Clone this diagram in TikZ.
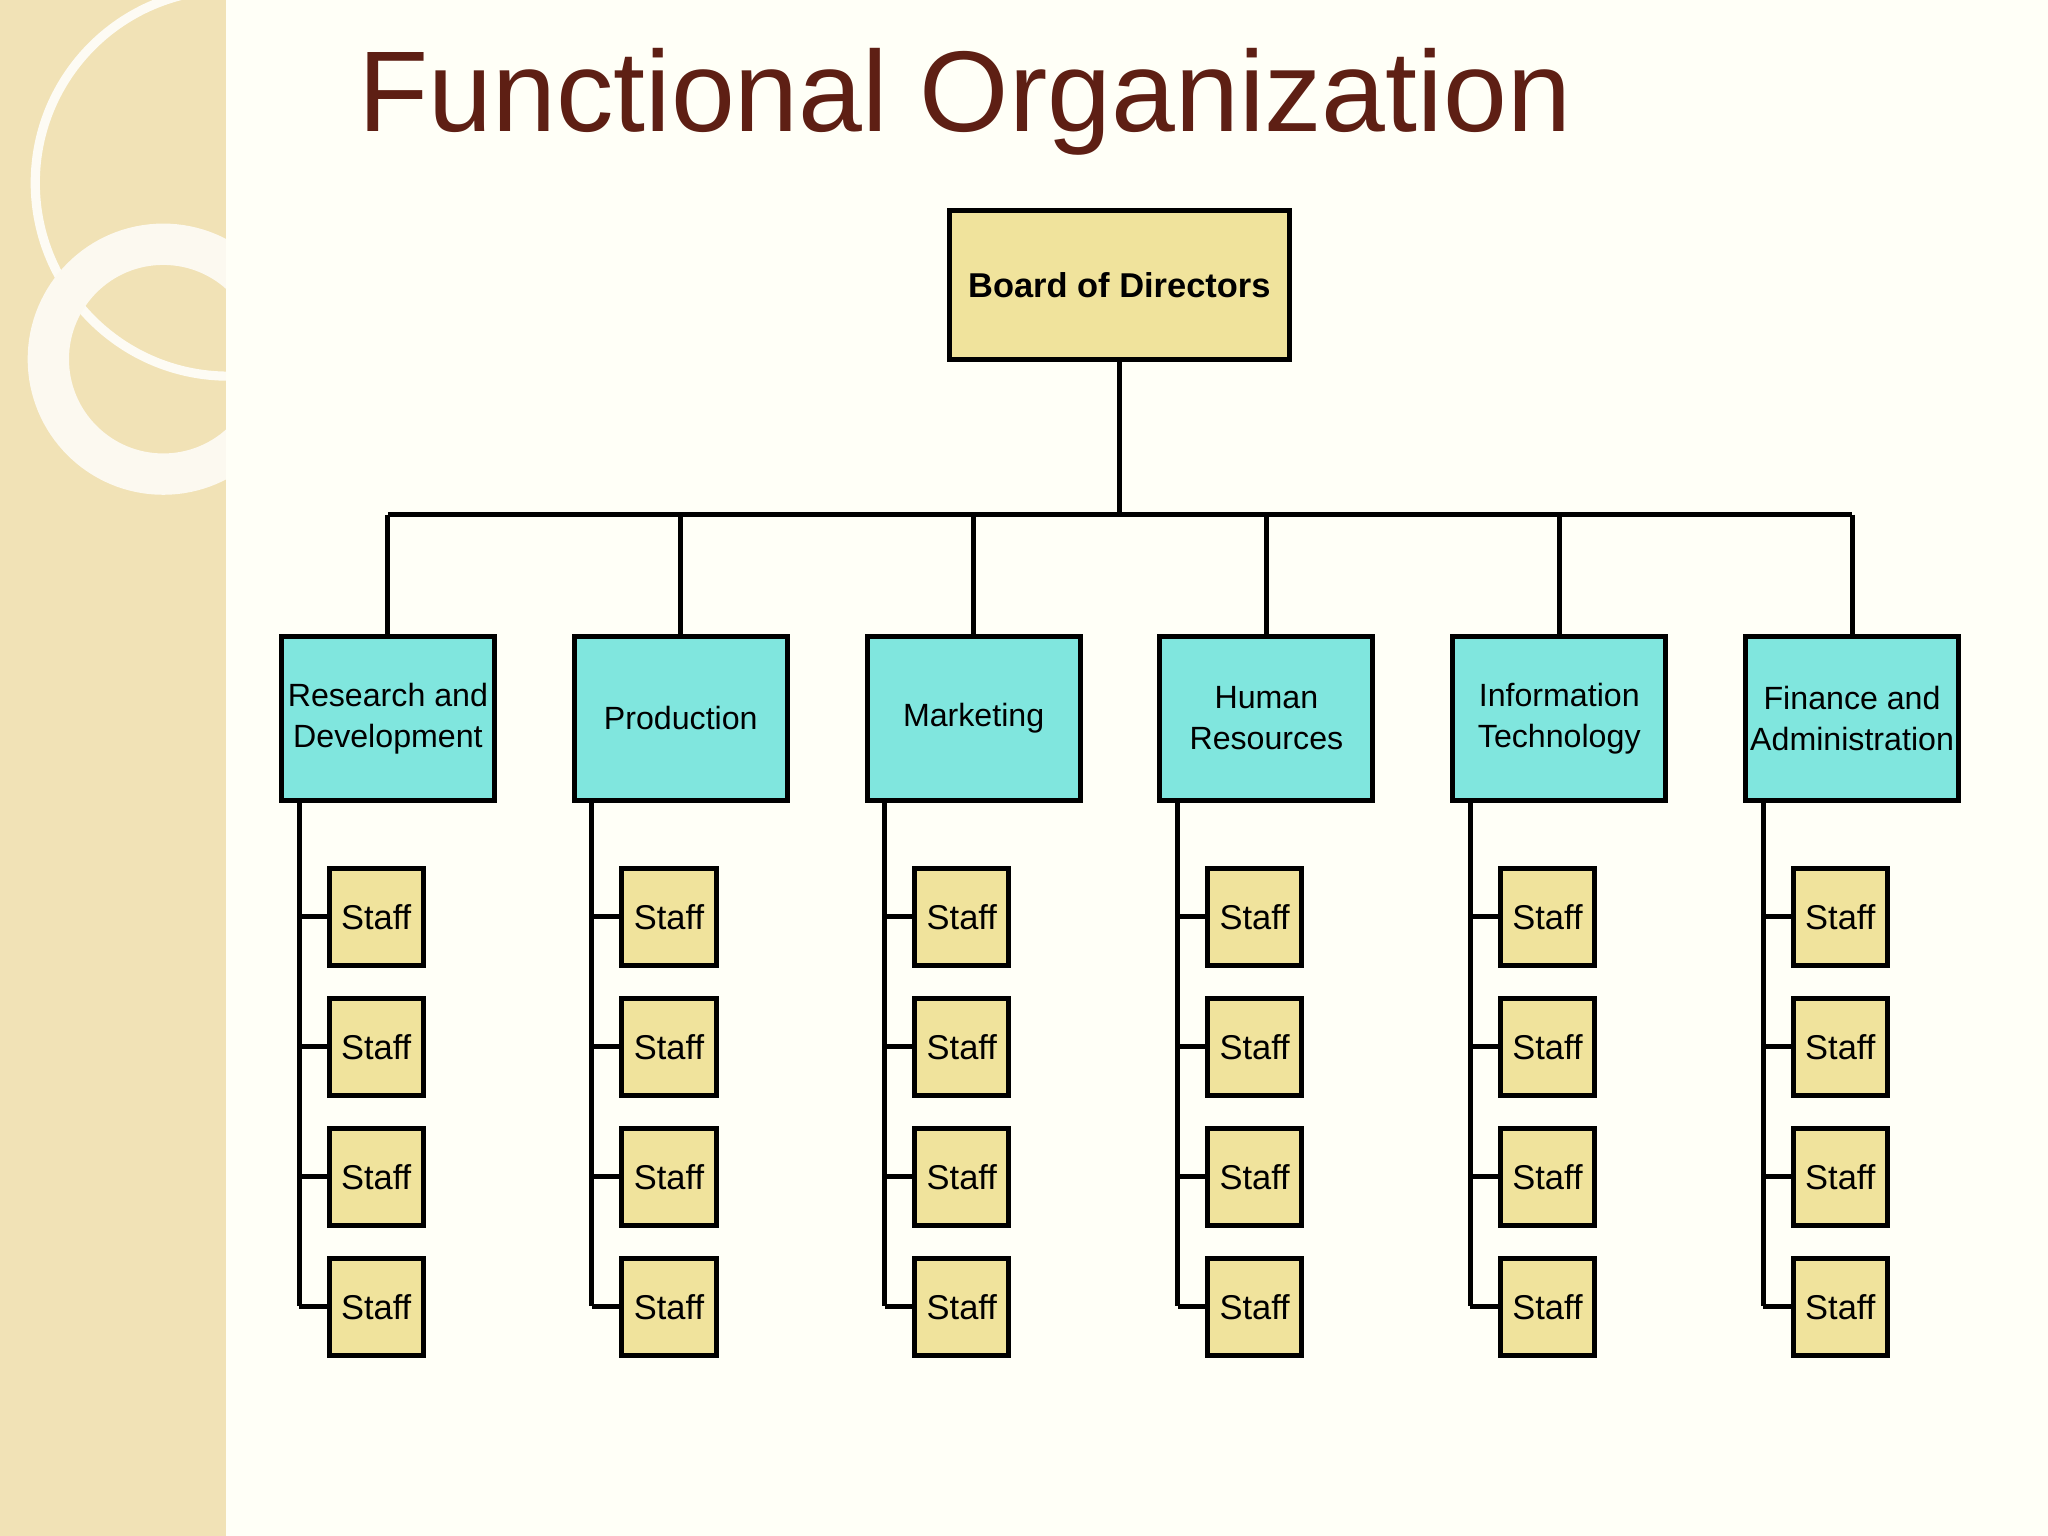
\documentclass[tikz,border=0pt]{standalone}
\usepackage{fontspec}
\setmainfont{Liberation Sans}
\begin{document}
\begin{tikzpicture}[x=0.01cm,y=-0.01cm,
  box/.style={draw=black,line width=1.1pt,inner sep=0pt},
  staff/.style={box,fill=staffc,minimum width=0.72cm,minimum height=0.74cm,font=\fontsize{7.5}{9}\selectfont},
  dept/.style={box,fill=deptc,minimum width=1.63cm,minimum height=1.26cm,align=center,font=\fontsize{7}{9}\selectfont},
  conn/.style={line width=1.1pt}]
\definecolor{staffc}{HTML}{F0E39C}
\definecolor{deptc}{HTML}{80E6DE}
\definecolor{panel}{HTML}{F1E2B6}
\definecolor{titlec}{HTML}{5E1F14}
\useasboundingbox (0,0) rectangle (1568,1176);
\fill[white!97!yellow] (0,0) rectangle (1568,1176);
\fill[panel] (0,0) rectangle (173,1176);
\begin{scope}
\clip (0,0) rectangle (173,1176);
\draw[white!85!panel,line width=2pt] (175,140) circle (148);
\draw[white!80!panel,line width=9pt] (125,275) circle (88);
\end{scope}
\node[text=titlec,font=\fontsize{25}{30}\selectfont,anchor=west] (title) at (262,78) {Functional Organization};
\node[box,fill=staffc,minimum width=2.6cm,minimum height=1.14cm,font=\bfseries\fontsize{7.5}{9}\selectfont] (b) at (857,218) {Board of Directors};
\coordinate (bus) at (857,394);
\draw[conn] (b.south) -- (bus);
\foreach \i/\t in {1/{Research and\\Development},2/{Production},3/{Marketing},4/{Human\\Resources},5/{Information\\Technology},6/{Finance and\\Administration}}{
  \pgfmathsetmacro{\cx}{297+224.2*(\i-1)}
  \node[dept] (d\i) at (\cx,550) {\t};
  \coordinate (t\i) at (\cx,394);
  \draw[conn] (t\i) -- (d\i.north);
  \coordinate (stem\i) at (\cx-68,614);
  \coordinate (end\i) at (\cx-68,1000);
  \draw[conn] (stem\i) -- (end\i);
  \foreach \j in {1,...,4}{
    \pgfmathsetmacro{\cy}{702+99.5*(\j-1)}
    \node[staff] (s\i\j) at (\cx-9,\cy) {Staff};
    \draw[conn] (\cx-68,\cy) -- (s\i\j.west);
  }
}
\draw[conn] (t1) -- (t6);
\end{tikzpicture}
\end{document}
